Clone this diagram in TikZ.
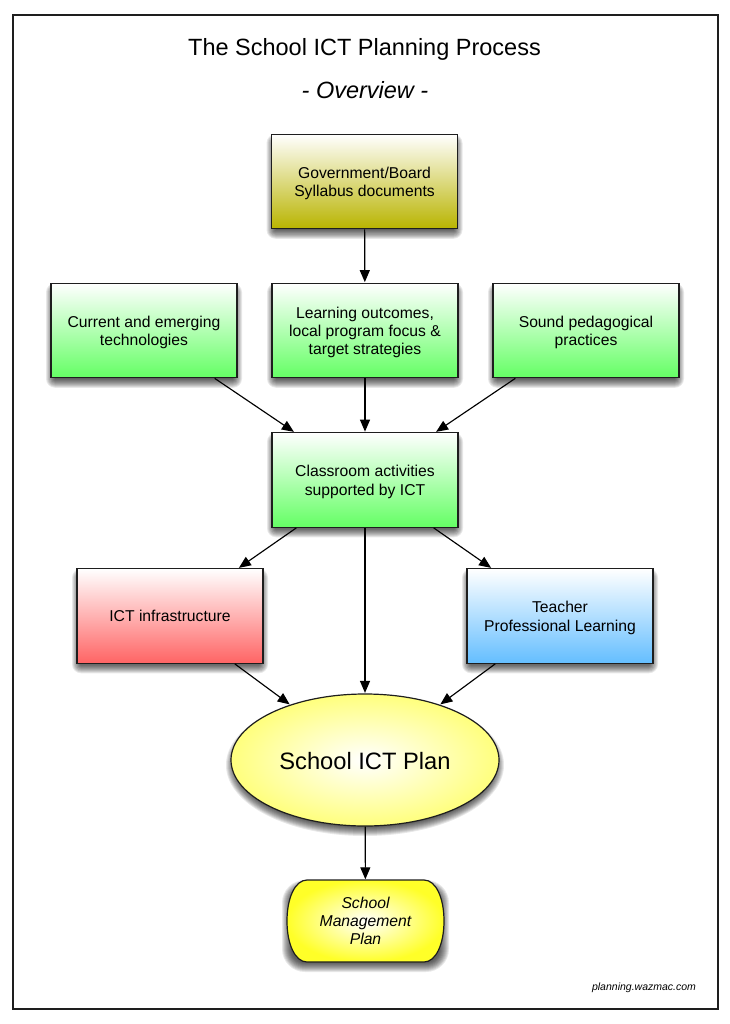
\documentclass[tikz,border=0pt]{standalone}
\usepackage{fontspec}
\setmainfont{Liberation Sans}
\usetikzlibrary{arrows.meta,shapes.geometric}
\definecolor{olivebox}{RGB}{185,180,0}
\definecolor{greenbox}{RGB}{100,255,100}
\definecolor{redbox}{RGB}{255,100,100}
\definecolor{bluebox}{RGB}{100,190,255}
\definecolor{paleyellow}{RGB}{255,255,125}
\definecolor{strongyellow}{RGB}{255,255,40}
\definecolor{edge}{RGB}{30,30,30}
\newcommand{\softrect}[5]{% cx, cy, w, h, corner radius
  \foreach \e in {-4,...,5}{
    \fill[black,fill opacity=.09,rounded corners={#5+\e+4}]
      ({#1-#3/2-\e},{#2-#4/2+5-\e}) rectangle ({#1+#3/2+\e},{#2+#4/2+5+\e});
  }}
\newcommand{\softoval}[4]{% cx, cy, rx, ry
  \foreach \e in {-4,...,5}{
    \fill[black,fill opacity=.09] (#1,#2+5) ellipse [x radius=#3+\e,y radius=#4+\e];
  }}
\tikzset{
  x=1pt,y=-1pt,
  boxbase/.style={rectangle,draw=edge,line width=1.2pt,minimum width=186pt,minimum height=94.5pt,
    inner sep=0pt,align=center,font=\fontsize{15.7}{18.3}\selectfont,text=black,top color=white},
  olivecard/.style={boxbase,bottom color=olivebox},
  greencard/.style={boxbase,bottom color=greenbox},
  redcard/.style={boxbase,bottom color=redbox},
  bluecard/.style={boxbase,bottom color=bluebox},
  planoval/.style={ellipse,draw=edge,line width=1.2pt,minimum width=268pt,minimum height=132pt,inner sep=0pt,
    inner color=white,outer color=paleyellow,font=\fontsize{23.7}{28}\selectfont},
  mgmtshape/.style={draw=edge,line width=1.2pt,line join=round,inner color=white,outer color=strongyellow},
  mgmtlabel/.style={minimum width=157pt,minimum height=82pt,inner sep=0pt,align=center,
    font=\fontsize{15.7}{18.3}\selectfont\itshape},
  flow/.style={draw=black,line width=1.15pt,-{Triangle[length=12pt,width=10pt]},shorten >=0.5pt},
  heading/.style={font=\fontsize{23.5}{28}\selectfont,inner sep=0pt},
}
\newcommand{\lift}{\rule{0pt}{15.5pt}}
\begin{document}
\begin{tikzpicture}
\useasboundingbox (0,0) rectangle (729,1024);
\fill[white] (0,0) rectangle (729,1024);
\draw[edge,line width=1.2pt] (13,15) rectangle (718,1009);
\softrect{364.5}{181.5}{186}{94.5}{0}
\softrect{365}{330.5}{186}{94.5}{0}
\softrect{144}{330.5}{186}{94.5}{0}
\softrect{586}{330.5}{186}{94.5}{0}
\softrect{365}{480}{186}{94.5}{0}
\softrect{170}{616}{186}{94.5}{0}
\softrect{560}{616}{186}{94.5}{0}
\softoval{365}{760}{134}{66}
\softrect{365.5}{921}{157}{82}{14}
\node[heading] (title) at (364.5,49) {The School ICT Planning Process};
\node[heading,font=\fontsize{23.5}{28}\selectfont\itshape] (sub) at (365,90) {- Overview -};
\node[olivecard] (gov) at (364.5,181.5) {\lift Government/Board\\Syllabus documents};
\node[greencard] (learn) at (365,330.5) {\lift Learning outcomes,\\local program focus \&\\target strategies};
\node[greencard] (tech) at (144,330.5) {\lift Current and emerging\\technologies};
\node[greencard] (peda) at (586,330.5) {\lift Sound pedagogical\\practices};
\node[greencard] (class) at (365,480) {\lift Classroom activities\\supported by ICT};
\node[redcard] (infra) at (170,616) {ICT infrastructure};
\node[bluecard] (teach) at (560,616) {\lift Teacher\\Professional Learning};
\node[planoval] (plan) at (365,760) {\rule{0pt}{19pt}School ICT Plan};
\path[mgmtshape] (307,880) -- (424,880) .. controls (436,880) and (444,898) .. (444,921)
  .. controls (444,944) and (436,962) .. (424,962) -- (307,962)
  .. controls (295,962) and (287,944) .. (287,921) .. controls (287,898) and (295,880) .. (307,880) -- cycle;
\node[mgmtlabel] (mgmt) at (365.5,921) {School\\Management\\Plan};
\node[font=\fontsize{10.5}{12}\selectfont\itshape,inner sep=0pt] (credit) at (644,988) {planning.wazmac.com};
\draw[flow] (gov) -- (learn);
\draw[flow] (tech) -- (class);
\draw[flow] (learn) -- (class);
\draw[flow] (peda) -- (class);
\draw[flow] (class) -- (infra);
\draw[flow] (class) -- (teach);
\draw[flow] (class) -- (plan);
\draw[flow] (infra) -- (plan);
\draw[flow] (teach) -- (plan);
\draw[flow] (plan) -- (mgmt);
\end{tikzpicture}
\end{document}
